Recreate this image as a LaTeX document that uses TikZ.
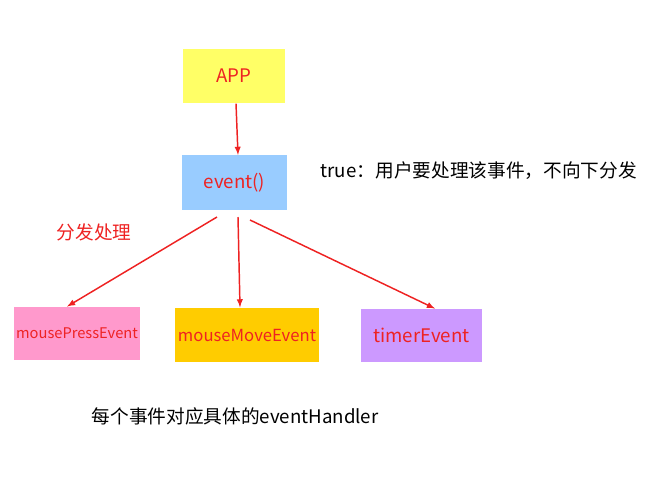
\documentclass[tikz,border=0pt]{standalone}
\usepackage{fontspec}
\setmainfont{Noto Sans CJK SC}
\usetikzlibrary{positioning}
\definecolor{appyellow}{HTML}{FFFF66}
\definecolor{evblue}{HTML}{99CCFF}
\definecolor{prpink}{HTML}{FF99CC}
\definecolor{mvorange}{HTML}{FFCC00}
\definecolor{tmpurple}{HTML}{CC99FF}
\definecolor{arrred}{HTML}{EE2222}
\begin{document}
\begin{tikzpicture}[x=0.75pt,y=-0.75pt]
    \tikzstyle{box}=[draw=none, text=arrred, font=\fontsize{14}{16}\selectfont, inner sep=0pt]
    \tikzstyle{flow}=[->, arrred, line width=1.1pt, >=latex]
    \useasboundingbox (0,0) rectangle (645,483);
    \node (APP) [box, fill=appyellow, minimum width=77pt, minimum height=41pt] at (234,76) {APP};
    \node (Event) [box, fill=evblue, minimum width=79pt, minimum height=41pt] at (234.5,182.5) {event()};
    \node (Press) [box, fill=prpink, minimum width=95pt, minimum height=40pt, font=\fontsize{11}{13}\selectfont] at (77,333.5) {mousePressEvent};
    \node (Move) [box, fill=mvorange, minimum width=108pt, minimum height=41pt, font=\fontsize{12.5}{14}\selectfont] at (247,335) {mouseMoveEvent};
    \node (Timer) [box, fill=tmpurple, minimum width=91pt, minimum height=40pt] at (421.5,335.5) {timerEvent};

    \coordinate (E1) at (217,217);
    \coordinate (E2) at (238,217);
    \coordinate (E3) at (250,220);
    \draw [flow] (APP.south -| 236,0) -- (Event.north -| 238,0);
    \draw [flow] (E1) -- (Press.north -| 67,0);
    \draw [flow] (E2) -- (Move.north -| 240,0);
    \draw [flow] (E3) -- (Timer.north -| 435,0);

    \node (Note) [anchor=west, font=\fontsize{14}{16}\selectfont] at (316,171) {true：用户要处理该事件，不向下分发};
    \node (Dispatch) [anchor=west, text=arrred, font=\fontsize{14}{16}\selectfont] at (52,232) {分发处理};
    \node (Handler) [anchor=west, font=\fontsize{14}{16}\selectfont] at (87,416) {每个事件对应具体的eventHandler};
\end{tikzpicture}
\end{document}
